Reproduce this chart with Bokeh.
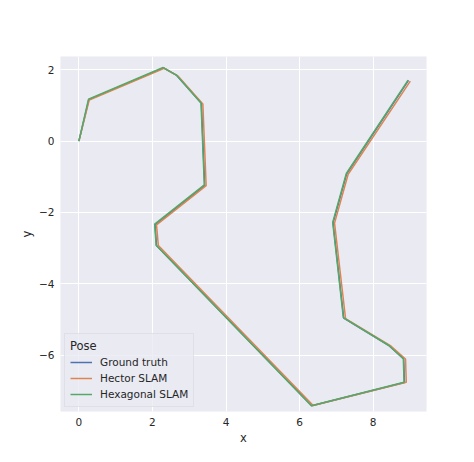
from bokeh.plotting import figure
from bokeh.models import Range1d, FixedTicker, Legend, LegendItem
from bokeh.embed import file_html
from bokeh.resources import INLINE

# Data
gt_x = [0.00, 0.27, 2.30, 2.66, 3.33, 3.42, 2.07, 2.11, 6.33, 8.85, 8.83, 8.44, 7.20, 6.91, 7.28, 8.96]
gt_y = [0.00, 1.16, 2.05, 1.84, 1.06, -1.24, -2.34, -2.93, -7.42, -6.77, -6.11, -5.74, -4.96, -2.29, -0.92, 1.70]

hector_x = [0.00, 0.28, 2.32, 2.70, 3.37, 3.46, 2.11, 2.16, 6.37, 8.90, 8.88, 8.49, 7.25, 6.95, 7.32, 9.01]
hector_y = [0.00, 1.15, 2.04, 1.82, 1.04, -1.25, -2.35, -2.93, -7.41, -6.76, -6.11, -5.75, -4.98, -2.30, -0.93, 1.68]

hex_x = [0.00, 0.26, 2.29, 2.65, 3.32, 3.41, 2.06, 2.10, 6.32, 8.84, 8.82, 8.43, 7.19, 6.90, 7.27, 8.95]
hex_y = [0.00, 1.17, 2.06, 1.85, 1.07, -1.23, -2.33, -2.92, -7.42, -6.76, -6.10, -5.73, -4.95, -2.28, -0.91, 1.71]

series_names = ["Ground truth", "Hector SLAM", "Hexagonal SLAM"]
x_ticks = [0, 2, 4, 6, 8]
y_ticks = [-6, -4, -2, 0, 2]
y_tick_labels = ["\u22126", "\u22124", "\u22122", "0", "2"]

FONT = "DejaVu Sans"
TXT = "#262626"

p = figure(width=466, height=454, output_backend="svg", toolbar_location=None,
           x_range=Range1d(-0.50, 9.45), y_range=Range1d(-7.58, 2.37),
           min_border_left=60, min_border_right=40, min_border_top=56, min_border_bottom=43,
           background_fill_color="#EAEAF2", border_fill_color="white")
p.outline_line_color = None

colors = ["#4C72B0", "#DD8452", "#55A868"]
xs = [gt_x, hector_x, hex_x]
ys = [gt_y, hector_y, hex_y]
renderers = []
for xx, yy, c in zip(xs, ys, colors):
    r = p.line(xx, yy, line_color=c, line_width=1.5)
    renderers.append(r)

for ax in (p.xaxis[0], p.yaxis[0]):
    ax.axis_line_color = None
    ax.major_tick_line_color = None
    ax.minor_tick_line_color = None
    ax.major_tick_out = 0
    ax.major_tick_in = 0
    ax.major_label_text_font = FONT
    ax.major_label_text_font_size = "10.5px"
    ax.major_label_text_color = TXT
    ax.axis_label_text_font = FONT
    ax.axis_label_text_font_size = "11.5px"
    ax.axis_label_text_font_style = "normal"
    ax.axis_label_text_color = TXT
    ax.major_label_standoff = 6
    ax.axis_label_standoff = 2

p.xaxis.ticker = FixedTicker(ticks=x_ticks)
p.yaxis.ticker = FixedTicker(ticks=y_ticks)
p.yaxis.major_label_overrides = {t: l for t, l in zip(y_ticks, y_tick_labels)}
p.xaxis.axis_label = "x"
p.yaxis.axis_label = "y"

p.grid.grid_line_color = "white"
p.grid.grid_line_width = 1
p.xgrid.ticker = FixedTicker(ticks=x_ticks)
p.ygrid.ticker = FixedTicker(ticks=y_ticks)

legend = Legend(items=[LegendItem(label=n, renderers=[r]) for n, r in zip(series_names, renderers)],
                location="bottom_left", title="Pose")
legend.title_text_font = FONT
legend.title_text_font_size = "11.5px"
legend.title_text_font_style = "normal"
legend.title_text_color = TXT
legend.title_standoff = 2
legend.label_text_font = FONT
legend.label_text_font_size = "10.5px"
legend.label_text_color = TXT
legend.label_height = 14
legend.glyph_height = 14
legend.glyph_width = 22
legend.label_standoff = 8
legend.spacing = 2
legend.padding = 5
legend.margin = 4
legend.background_fill_color = "#EAEAF2"
legend.background_fill_alpha = 0.8
legend.border_line_color = "#D4D4DC"
legend.border_line_width = 1
p.add_layout(legend)

open("out.html", "w").write(file_html(p, INLINE))
